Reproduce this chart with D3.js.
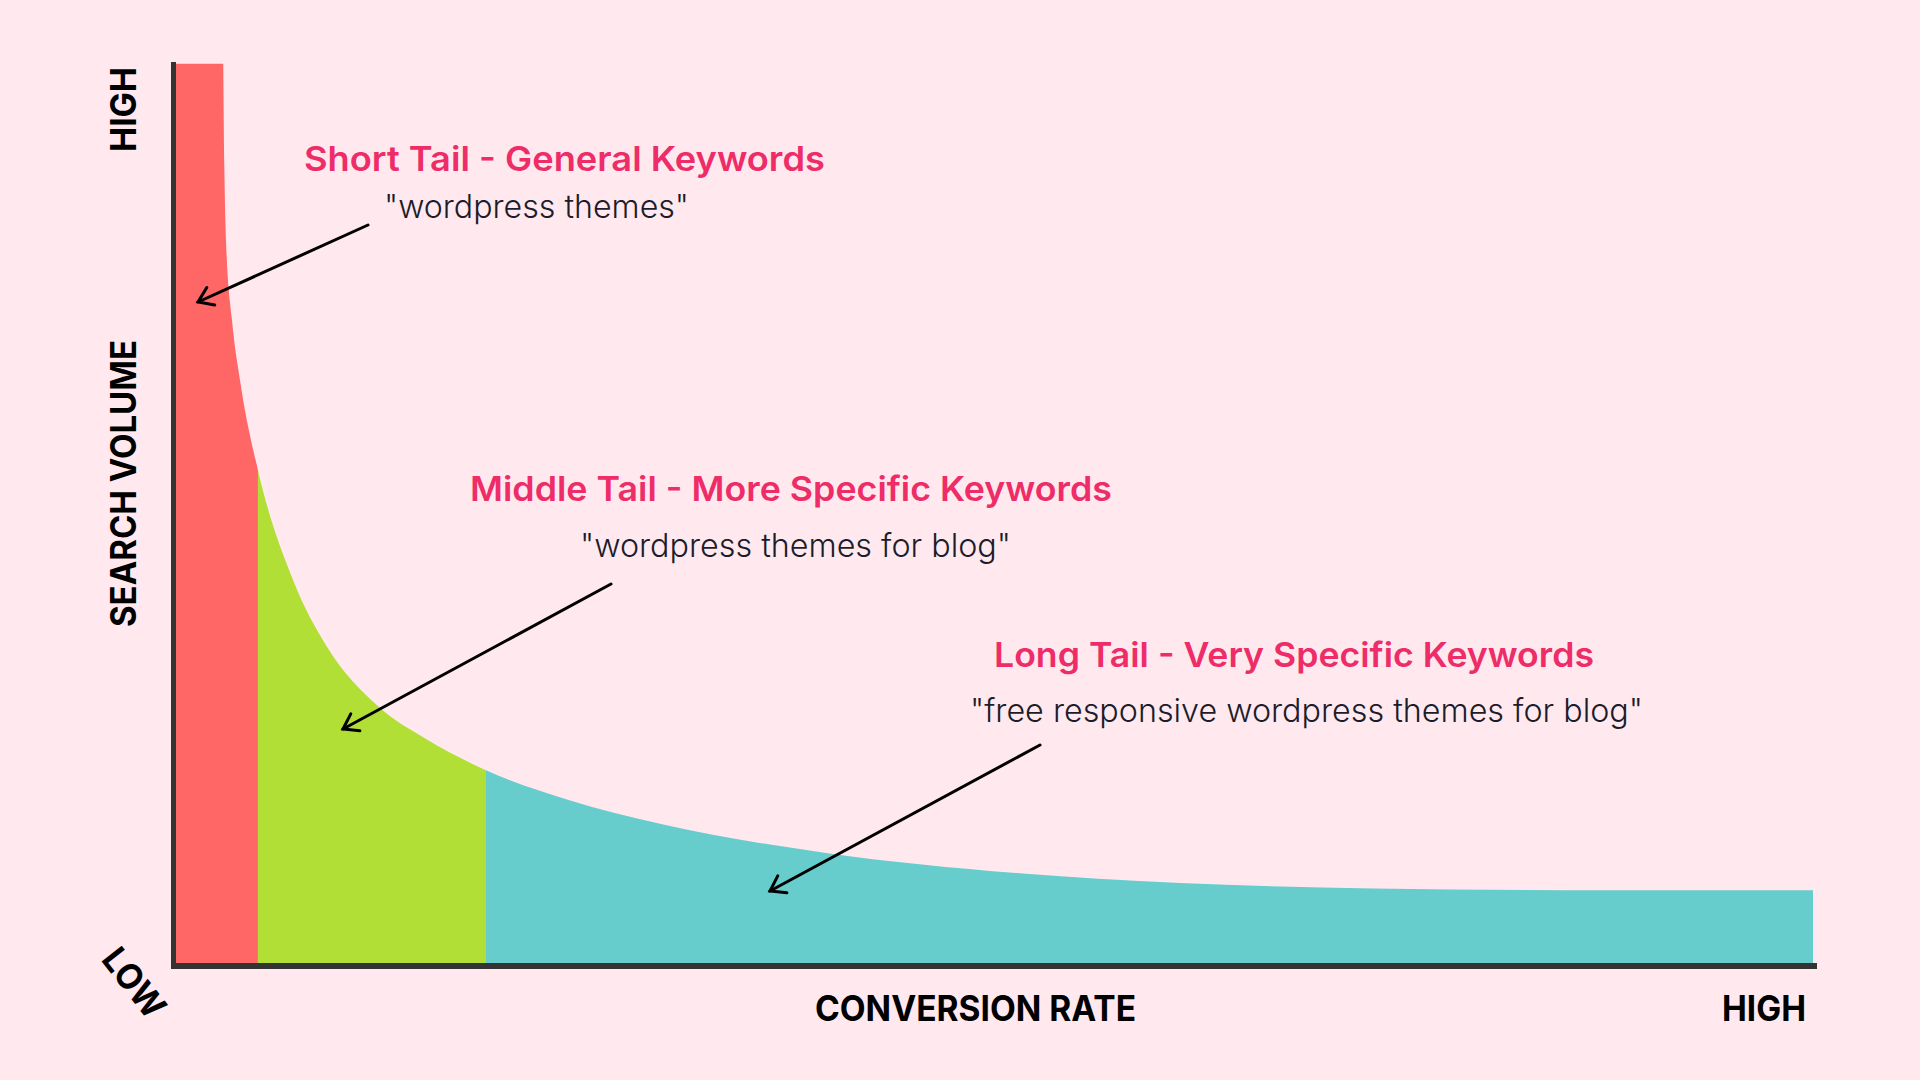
<!DOCTYPE html>
<html><head><meta charset="utf-8">
<script src="https://cdn.jsdelivr.net/npm/d3@7"></script>
<style>html,body{margin:0;padding:0;background:#FFE9EF;}svg{display:block;}</style>
</head><body>
<script>
// Curve: conversion rate (0-100) vs search volume (0-100)
const curveX = [0, 3.02, 3.10, 3.20, 3.57, 4.06, 5.15, 7.29, 9.36, 12.41, 15.46, 19.06, 24.1, 29.6, 39.9, 51.4, 61.4, 73.2, 87.4, 100];
const curveY = [100, 100, 88.5, 80.5, 71.6, 64.9, 55.0, 42.8, 35.4, 28.9, 25.1, 21.7, 18.4, 15.8, 12.5, 10.3, 9.2, 8.6, 8.4, 8.4];
// Segment boundaries on conversion-rate axis
const segmentNames = ["Short Tail", "Middle Tail", "Long Tail"];
const segmentStart = [0, 5.15, 19.06];
const segmentEnd = [5.15, 19.06, 100];
const segmentColors = ["#FF6666", "#B2DF36", "#66CCCC"];
// Annotations
const titles = ["Short Tail - General Keywords", "Middle Tail - More Specific Keywords", "Long Tail - Very Specific Keywords"];
const examples = ["\"wordpress themes\"", "\"wordpress themes for blog\"", "\"free responsive wordpress themes for blog\""];
const axisLabels = {x: "CONVERSION RATE", y: "SEARCH VOLUME", low: "LOW", high: "HIGH"};

const W = 1920, H = 1080;
const svg = d3.select("body").append("svg").attr("width", W).attr("height", H);
svg.append("rect").attr("width", W).attr("height", H).attr("fill", "#FFE9EF");

const x = d3.scaleLinear().domain([0, 100]).range([173.5, 1813]);
const y = d3.scaleLinear().domain([0, 100]).range([966, 64]);

const pts = curveX.map((d, i) => ({x: d, y: curveY[i]}));
// flat cap (first two points) drawn linearly, the falling curve smoothly
const capPts = pts.slice(0, 2);
const curvePts = pts.slice(1);
const areaLin = d3.area().x(d => x(d.x)).y0(y(0)).y1(d => y(d.y));
const area = d3.area().x(d => x(d.x)).y0(y(0)).y1(d => y(d.y)).curve(d3.curveMonotoneX);

const defs = svg.append("defs");
segmentStart.forEach((s, i) => {
  defs.append("clipPath").attr("id", "seg" + i).append("rect")
    .attr("x", x(s)).attr("y", 0).attr("width", x(segmentEnd[i]) - x(s)).attr("height", H);
  const g = svg.append("g").attr("clip-path", `url(#seg${i})`);
  g.append("path").datum(capPts).attr("d", areaLin).attr("fill", segmentColors[i])
    .attr("stroke", segmentColors[i]).attr("stroke-width", 0.5);
  g.append("path").datum(curvePts).attr("d", area).attr("fill", segmentColors[i]);
});

// axes
svg.append("line").attr("x1", x(0)).attr("x2", x(0)).attr("y1", 62).attr("y2", 969)
  .attr("stroke", "#333333").attr("stroke-width", 5);
svg.append("line").attr("x1", x(0) - 2.5).attr("x2", 1817).attr("y1", 966).attr("y2", 966)
  .attr("stroke", "#333333").attr("stroke-width", 6);

const titleColor = "#EE2D68";
const titlePos = [[304, 171, 521], [470, 501, 642], [994, 667, 600]];
const exPos = [[384, 218, 305], [580, 557, 431], [970, 722, 673]];
titles.forEach((t, i) => {
  svg.append("text").attr("x", titlePos[i][0]).attr("y", titlePos[i][1])
    .attr("textLength", titlePos[i][2]).attr("lengthAdjust", "spacingAndGlyphs")
    .attr("font-family", "Inter, 'Open Sans', sans-serif").attr("font-weight", 600)
    .attr("font-size", 34).attr("fill", titleColor).text(t);
  svg.append("text").attr("x", exPos[i][0]).attr("y", exPos[i][1])
    .attr("textLength", exPos[i][2]).attr("lengthAdjust", "spacingAndGlyphs")
    .attr("font-family", "Inter, 'Open Sans', sans-serif").attr("font-weight", 300)
    .attr("font-size", 32).attr("fill", "#1C1C2A").text(examples[i]);
});

// arrows
const arrows = [[368, 225, 198, 302], [611, 584, 343, 729], [1040, 745, 770, 891]];
arrows.forEach(a => {
  const [x1, y1, x2, y2] = a;
  const ang = Math.atan2(y1 - y2, x1 - x2);
  const L = 17, sp = 0.6;
  svg.append("line").attr("x1", x1).attr("y1", y1).attr("x2", x2).attr("y2", y2)
    .attr("stroke", "#000").attr("stroke-width", 3).attr("stroke-linecap", "round");
  svg.append("path")
    .attr("d", `M${x2 + L * Math.cos(ang - sp)},${y2 + L * Math.sin(ang - sp)}L${x2},${y2}L${x2 + L * Math.cos(ang + sp)},${y2 + L * Math.sin(ang + sp)}`)
    .attr("fill", "none").attr("stroke", "#000").attr("stroke-width", 3).attr("stroke-linecap", "round").attr("stroke-linejoin", "miter");
});

// axis labels
const lab = (sel) => sel.attr("font-family", "Inter, 'Open Sans', sans-serif").attr("font-weight", 700)
  .attr("font-size", 35).attr("fill", "#000");
lab(svg.append("text")).attr("x", 815).attr("y", 1021).attr("textLength", 321)
  .attr("lengthAdjust", "spacingAndGlyphs").text(axisLabels.x);
lab(svg.append("text")).attr("x", 1722).attr("y", 1021).attr("textLength", 84)
  .attr("lengthAdjust", "spacingAndGlyphs").text(axisLabels.high);
lab(svg.append("text")).attr("transform", "translate(136,627) rotate(-90)").attr("x", 0).attr("y", 0)
  .attr("textLength", 287).attr("lengthAdjust", "spacingAndGlyphs").text(axisLabels.y);
lab(svg.append("text")).attr("transform", "translate(136,152) rotate(-90)").attr("x", 0).attr("y", 0)
  .attr("textLength", 85).attr("lengthAdjust", "spacingAndGlyphs").text(axisLabels.high);
lab(svg.append("text")).attr("transform", "translate(134,983) rotate(52)").attr("text-anchor", "middle")
  .attr("dy", "0.35em").attr("textLength", 78).attr("lengthAdjust", "spacingAndGlyphs").text(axisLabels.low);
</script>
</body></html>
